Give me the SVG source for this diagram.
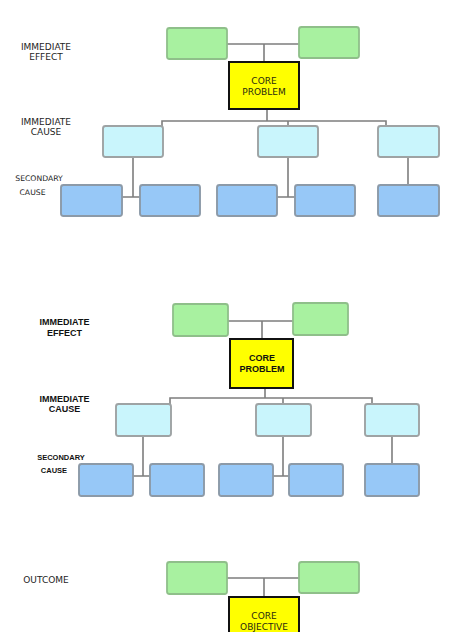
<svg xmlns="http://www.w3.org/2000/svg" width="474" height="632" viewBox="0 0 474 632">
<style>
.bg{fill:#ffffff}
.eff{fill:#a8f1a0;stroke:#8fbf8a;stroke-width:1.8}
.core{fill:#ffff00;stroke:#111111;stroke-width:2}
.ic{fill:#c9f5fc;stroke:#9ea3a4;stroke-width:1.9}
.sc{fill:#97c8f7;stroke:#8c9aa8;stroke-width:1.9}
.ln{fill:none;stroke:#7e7e7e;stroke-width:1.6}
.t1{font-family:"DejaVu Sans",sans-serif;font-size:9px;fill:#1e1e1e;text-anchor:middle}
.t1s{font-family:"DejaVu Sans",sans-serif;font-size:7.7px;fill:#1e1e1e;text-anchor:middle}
.t2{font-family:"Liberation Sans",Arial,sans-serif;font-weight:bold;font-size:9px;fill:#111111;text-anchor:middle}
.t2s{font-family:"Liberation Sans",Arial,sans-serif;font-weight:bold;font-size:7.5px;fill:#111111;text-anchor:middle}
.ct{font-family:"DejaVu Sans",sans-serif;font-size:9px;fill:#2a2a10;text-anchor:middle}
.ct2{font-family:"Liberation Sans",Arial,sans-serif;font-weight:bold;font-size:9px;fill:#111111;text-anchor:middle}
</style>
<rect class="bg" x="0" y="0" width="474" height="632"/>

<g id="connectors">
  <path class="ln" d="M227 44 H299 M264 44 V62"/>
  <path class="ln" d="M267 110 V121 M162 126 V121 H386 V126 M288 121 V126"/>
  <path class="ln" d="M133 157 V197 M122 197 H140"/>
  <path class="ln" d="M288 157 V197 M277 197 H295"/>
  <path class="ln" d="M408 157 V185"/>
  <path class="ln" d="M228 321 H293 M262 321 V339"/>
  <path class="ln" d="M265 388 V398 M170 404 V398 H372 V404 M283 398 V404"/>
  <path class="ln" d="M143 436 V476 M133 476 H150"/>
  <path class="ln" d="M283 436 V476 M273 476 H289"/>
  <path class="ln" d="M392 436 V464"/>
  <path class="ln" d="M227 578 H299 M264 578 V597"/>
</g>

<g id="labels1">
  <text class="t1" x="46" y="49.5">IMMEDIATE</text>
  <text class="t1" x="46" y="59.5">EFFECT</text>
  <text class="t1" x="46" y="124.5">IMMEDIATE</text>
  <text class="t1" x="46" y="134.5">CAUSE</text>
  <text class="t1s" x="39" y="181">SECONDARY</text>
  <text class="t1s" x="32.5" y="195">CAUSE</text>
</g>
<g id="labels2">
  <text class="t2" x="64.5" y="325">IMMEDIATE</text>
  <text class="t2" x="64.5" y="335.5">EFFECT</text>
  <text class="t2" x="64.5" y="401.5">IMMEDIATE</text>
  <text class="t2" x="64.5" y="412">CAUSE</text>
  <text class="t2s" x="61" y="459.5">SECONDARY</text>
  <text class="t2s" x="54" y="473">CAUSE</text>
</g>
<g id="labels3">
  <text class="t1" x="46" y="583">OUTCOME</text>
</g>

<g id="eff1a"><rect class="eff" x="167" y="28" width="60" height="31" rx="2.5"/></g>
<g id="eff1b"><rect class="eff" x="299" y="27" width="60" height="31" rx="2.5"/></g>
<g id="core1"><rect class="core" x="229" y="62" width="70" height="47"/>
  <text class="ct" x="264" y="84.3">CORE</text>
  <text class="ct" x="264" y="94.7">PROBLEM</text></g>
<g id="ic1a"><rect class="ic" x="103" y="126" width="60" height="31" rx="2.5"/></g>
<g id="ic1b"><rect class="ic" x="258" y="126" width="60" height="31" rx="2.5"/></g>
<g id="ic1c"><rect class="ic" x="378" y="126" width="61" height="31" rx="2.5"/></g>
<g id="sc1a"><rect class="sc" x="61" y="185" width="61" height="31" rx="2.5"/></g>
<g id="sc1b"><rect class="sc" x="140" y="185" width="60" height="31" rx="2.5"/></g>
<g id="sc1c"><rect class="sc" x="217" y="185" width="60" height="31" rx="2.5"/></g>
<g id="sc1d"><rect class="sc" x="295" y="185" width="60" height="31" rx="2.5"/></g>
<g id="sc1e"><rect class="sc" x="378" y="185" width="61" height="31" rx="2.5"/></g>

<g id="eff2a"><rect class="eff" x="173" y="304" width="55" height="32" rx="2.5"/></g>
<g id="eff2b"><rect class="eff" x="293" y="303" width="55" height="32" rx="2.5"/></g>
<g id="core2"><rect class="core" x="230" y="339" width="63" height="49"/>
  <text class="ct2" x="262" y="361">CORE</text>
  <text class="ct2" x="262" y="372">PROBLEM</text></g>
<g id="ic2a"><rect class="ic" x="116" y="404" width="55" height="32" rx="2.5"/></g>
<g id="ic2b"><rect class="ic" x="256" y="404" width="55" height="32" rx="2.5"/></g>
<g id="ic2c"><rect class="ic" x="365" y="404" width="54" height="32" rx="2.5"/></g>
<g id="sc2a"><rect class="sc" x="79" y="464" width="54" height="32" rx="2.5"/></g>
<g id="sc2b"><rect class="sc" x="150" y="464" width="54" height="32" rx="2.5"/></g>
<g id="sc2c"><rect class="sc" x="219" y="464" width="54" height="32" rx="2.5"/></g>
<g id="sc2d"><rect class="sc" x="289" y="464" width="54" height="32" rx="2.5"/></g>
<g id="sc2e"><rect class="sc" x="365" y="464" width="54" height="32" rx="2.5"/></g>

<g id="eff3a"><rect class="eff" x="167" y="562" width="60" height="32" rx="2.5"/></g>
<g id="eff3b"><rect class="eff" x="299" y="562" width="60" height="31" rx="2.5"/></g>
<g id="core3"><rect class="core" x="229" y="597" width="70" height="40"/>
  <text class="ct" x="264" y="619">CORE</text>
  <text class="ct" x="264" y="629.5">OBJECTIVE</text></g>
</svg>
